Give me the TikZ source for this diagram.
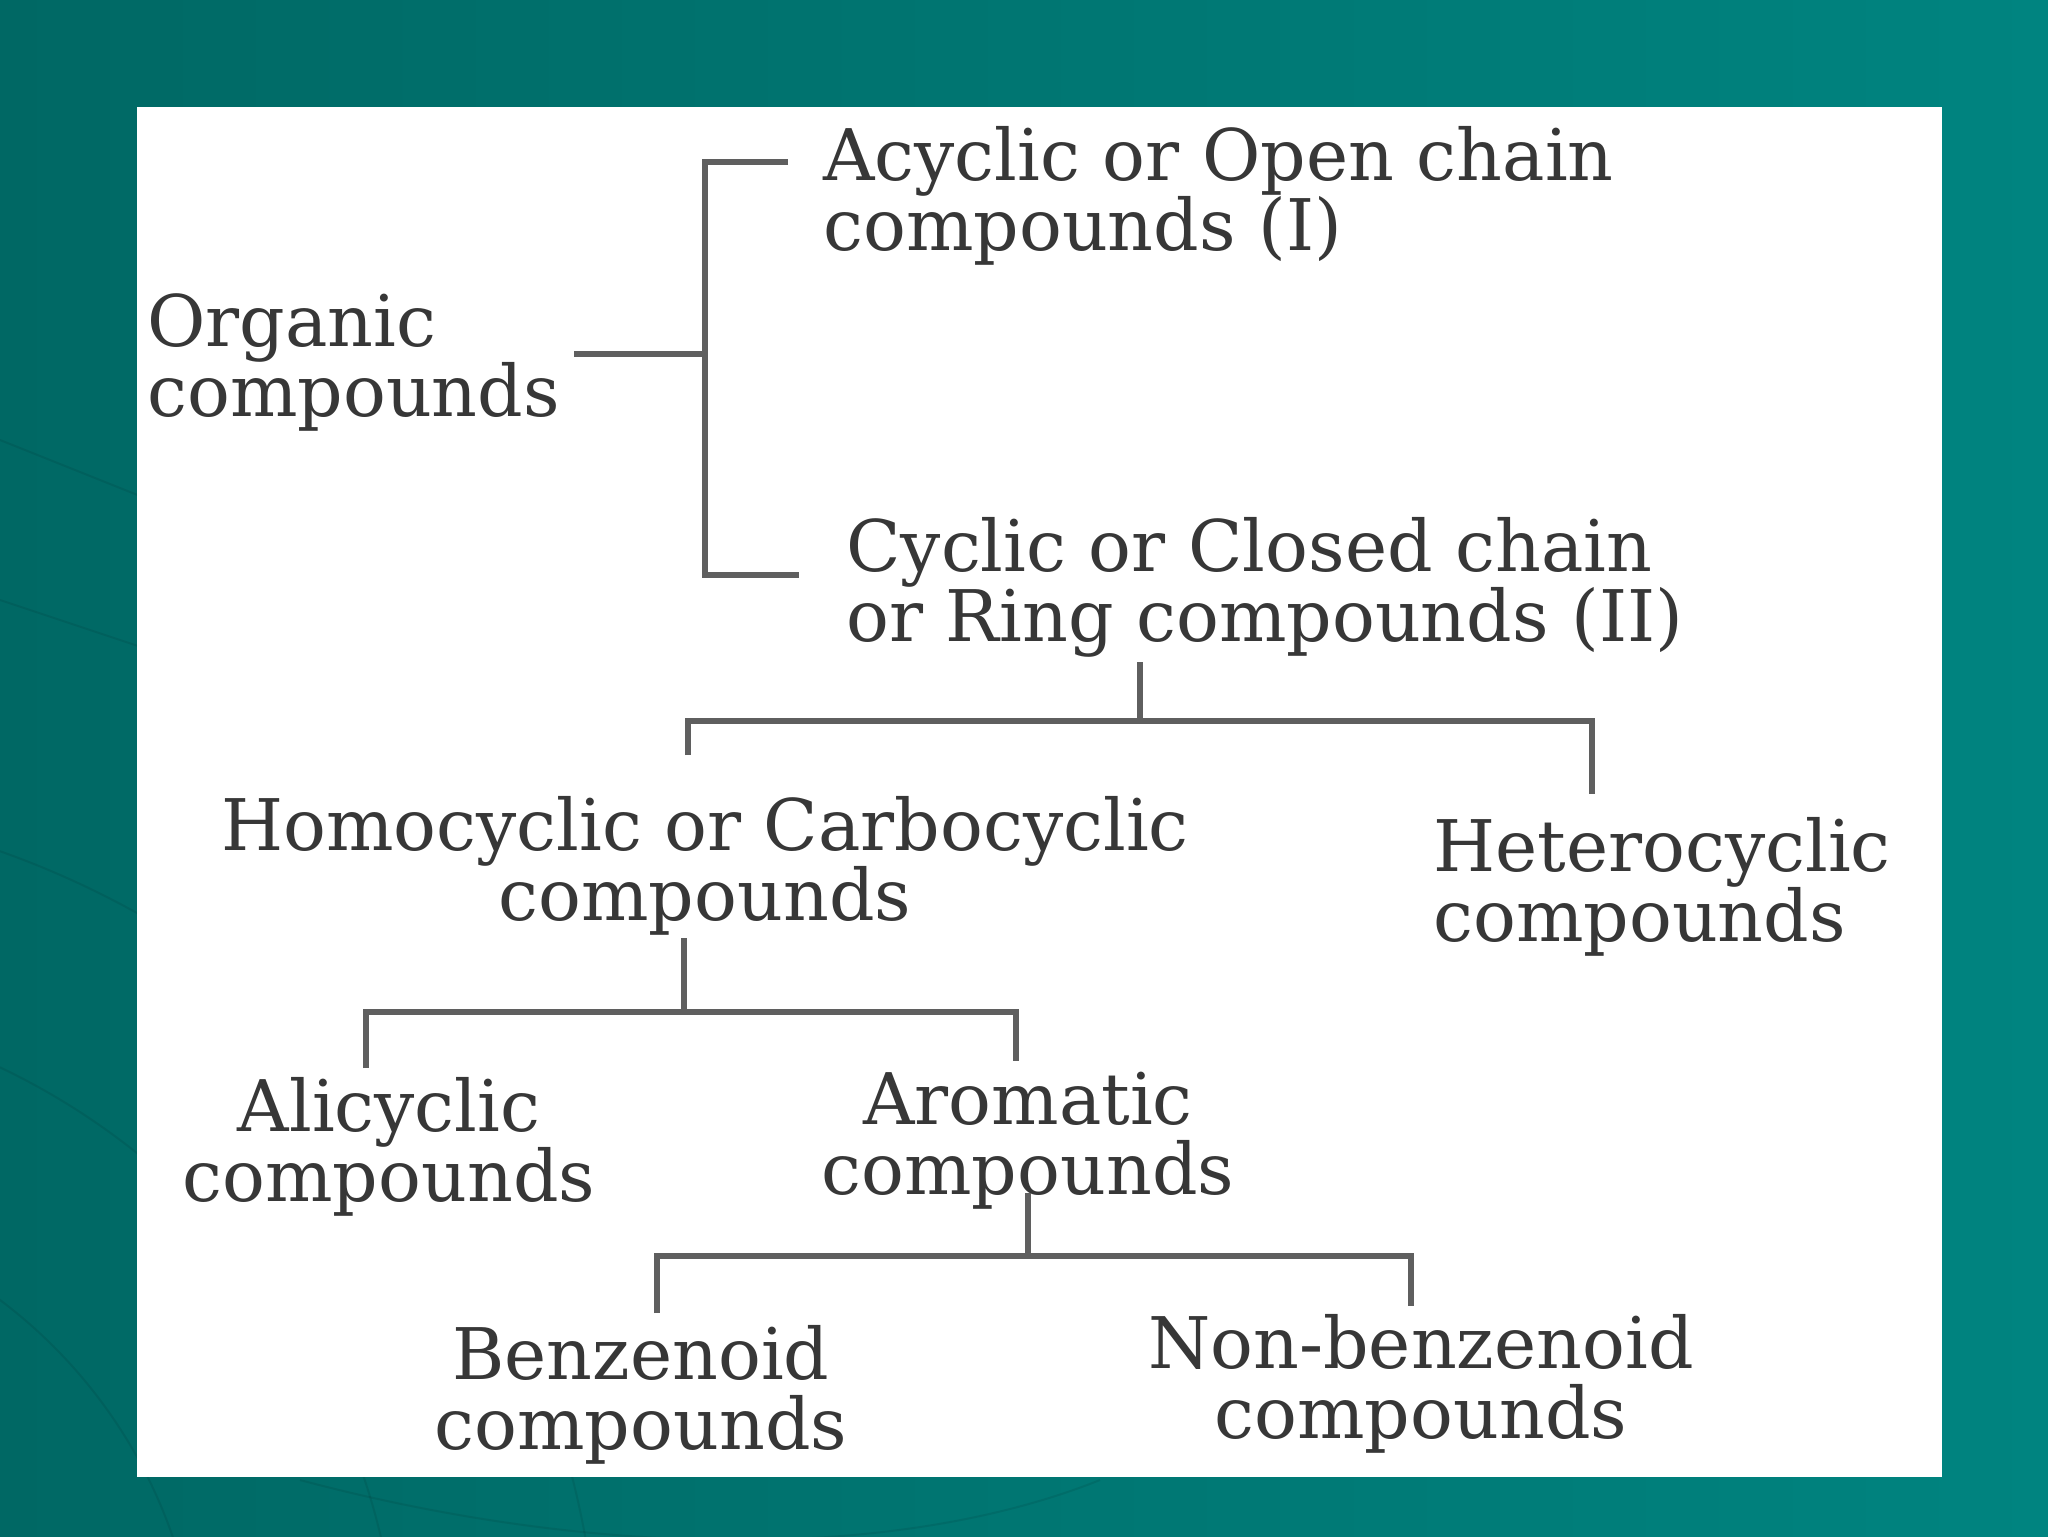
\documentclass[tikz,border=0pt]{standalone}
\usepackage{fontspec}
\setmainfont{DejaVu Serif}
\definecolor{tealA}{RGB}{0,104,100}
\definecolor{tealB}{RGB}{0,132,128}
\definecolor{txt}{RGB}{55,55,55}
\definecolor{ln}{RGB}{95,95,95}
\tikzset{
  lbl/.style={inner sep=0pt, text=txt, font=\fontsize{35.6}{35}\selectfont},
  conn/.style={draw=ln, line width=3.2pt, line join=miter},
  web/.style={draw=black, opacity=0.08, line width=1pt}
}
\begin{document}
\begin{tikzpicture}[x=0.5pt,y=-0.5pt]
\useasboundingbox (0,0) rectangle (2048,1536);
\shade[left color=tealA, right color=tealB] (0,0) rectangle (2048,1536);
% faint web pattern
\draw[web] (-300,1700) circle (900);
\draw[web] (-300,1700) circle (700);
\draw[web] (-300,1700) circle (500);
\draw[web] (-100,400) -- (150,500);
\draw[web] (0,600) -- (150,650);
\draw[web] (300,1480) .. controls (600,1560) and (900,1560) .. (1100,1480);
% white panel
\fill[white] (137,107) rectangle (1942,1477);

% nodes
\node[lbl, anchor=west, align=left] (org) at (147,362) {Organic\\compounds};
\node[lbl, anchor=west, align=left] (acy) at (823,196) {Acyclic or Open chain\\compounds (I)};
\node[lbl, anchor=west, align=left] (cyc) at (846,587) {Cyclic or Closed chain\\or Ring compounds (II)};
\node[lbl, align=center] (homo) at (705,866) {Homocyclic or Carbocyclic\\compounds};
\node[lbl, anchor=west, align=left] (het) at (1433,887) {Heterocyclic\\compounds};
\node[lbl, align=center] (ali) at (389,1147) {Alicyclic\\compounds};
\node[lbl, align=center] (aro) at (1028,1141) {Aromatic\\compounds};
\node[lbl, align=center] (ben) at (641,1395) {Benzenoid\\compounds};
\node[lbl, align=center] (non) at (1421,1384) {Non-benzenoid\\compounds};

% bracket from Organic compounds
\coordinate (bMid) at (705,354);
\coordinate (bTop) at (705,162);
\coordinate (bBot) at (705,575);
\coordinate (bTopE) at (788,162);
\coordinate (bBotE) at (799,575);
\draw[conn, shorten <=7pt] (org.east |- bMid) -- (bMid);
\draw[conn] (bTopE) -- (bTop) -- (bBot) -- (bBotE);

% from Cyclic
\coordinate (cTop) at (1140,662);
\coordinate (cMid) at (1140,721);
\coordinate (cL) at (688,721);
\coordinate (cR) at (1592,721);
\coordinate (cLd) at (688,755);
\coordinate (cRd) at (1592,794);
\draw[conn] (cTop) -- (cMid);
\draw[conn] (cLd) -- (cL) -- (cR) -- (cRd);

% from Homocyclic
\coordinate (hTop) at (684,938);
\coordinate (hMid) at (684,1012);
\coordinate (hL) at (366,1012);
\coordinate (hR) at (1016,1012);
\coordinate (hLd) at (366,1068);
\coordinate (hRd) at (1016,1061);
\draw[conn] (hTop) -- (hMid);
\draw[conn] (hLd) -- (hL) -- (hR) -- (hRd);

% from Aromatic
\coordinate (aTop) at (1028,1193);
\coordinate (aMid) at (1028,1256);
\coordinate (aL) at (657,1256);
\coordinate (aR) at (1411,1256);
\coordinate (aLd) at (657,1313);
\coordinate (aRd) at (1411,1306);
\draw[conn] (aTop) -- (aMid);
\draw[conn] (aLd) -- (aL) -- (aR) -- (aRd);
\end{tikzpicture}
\end{document}
